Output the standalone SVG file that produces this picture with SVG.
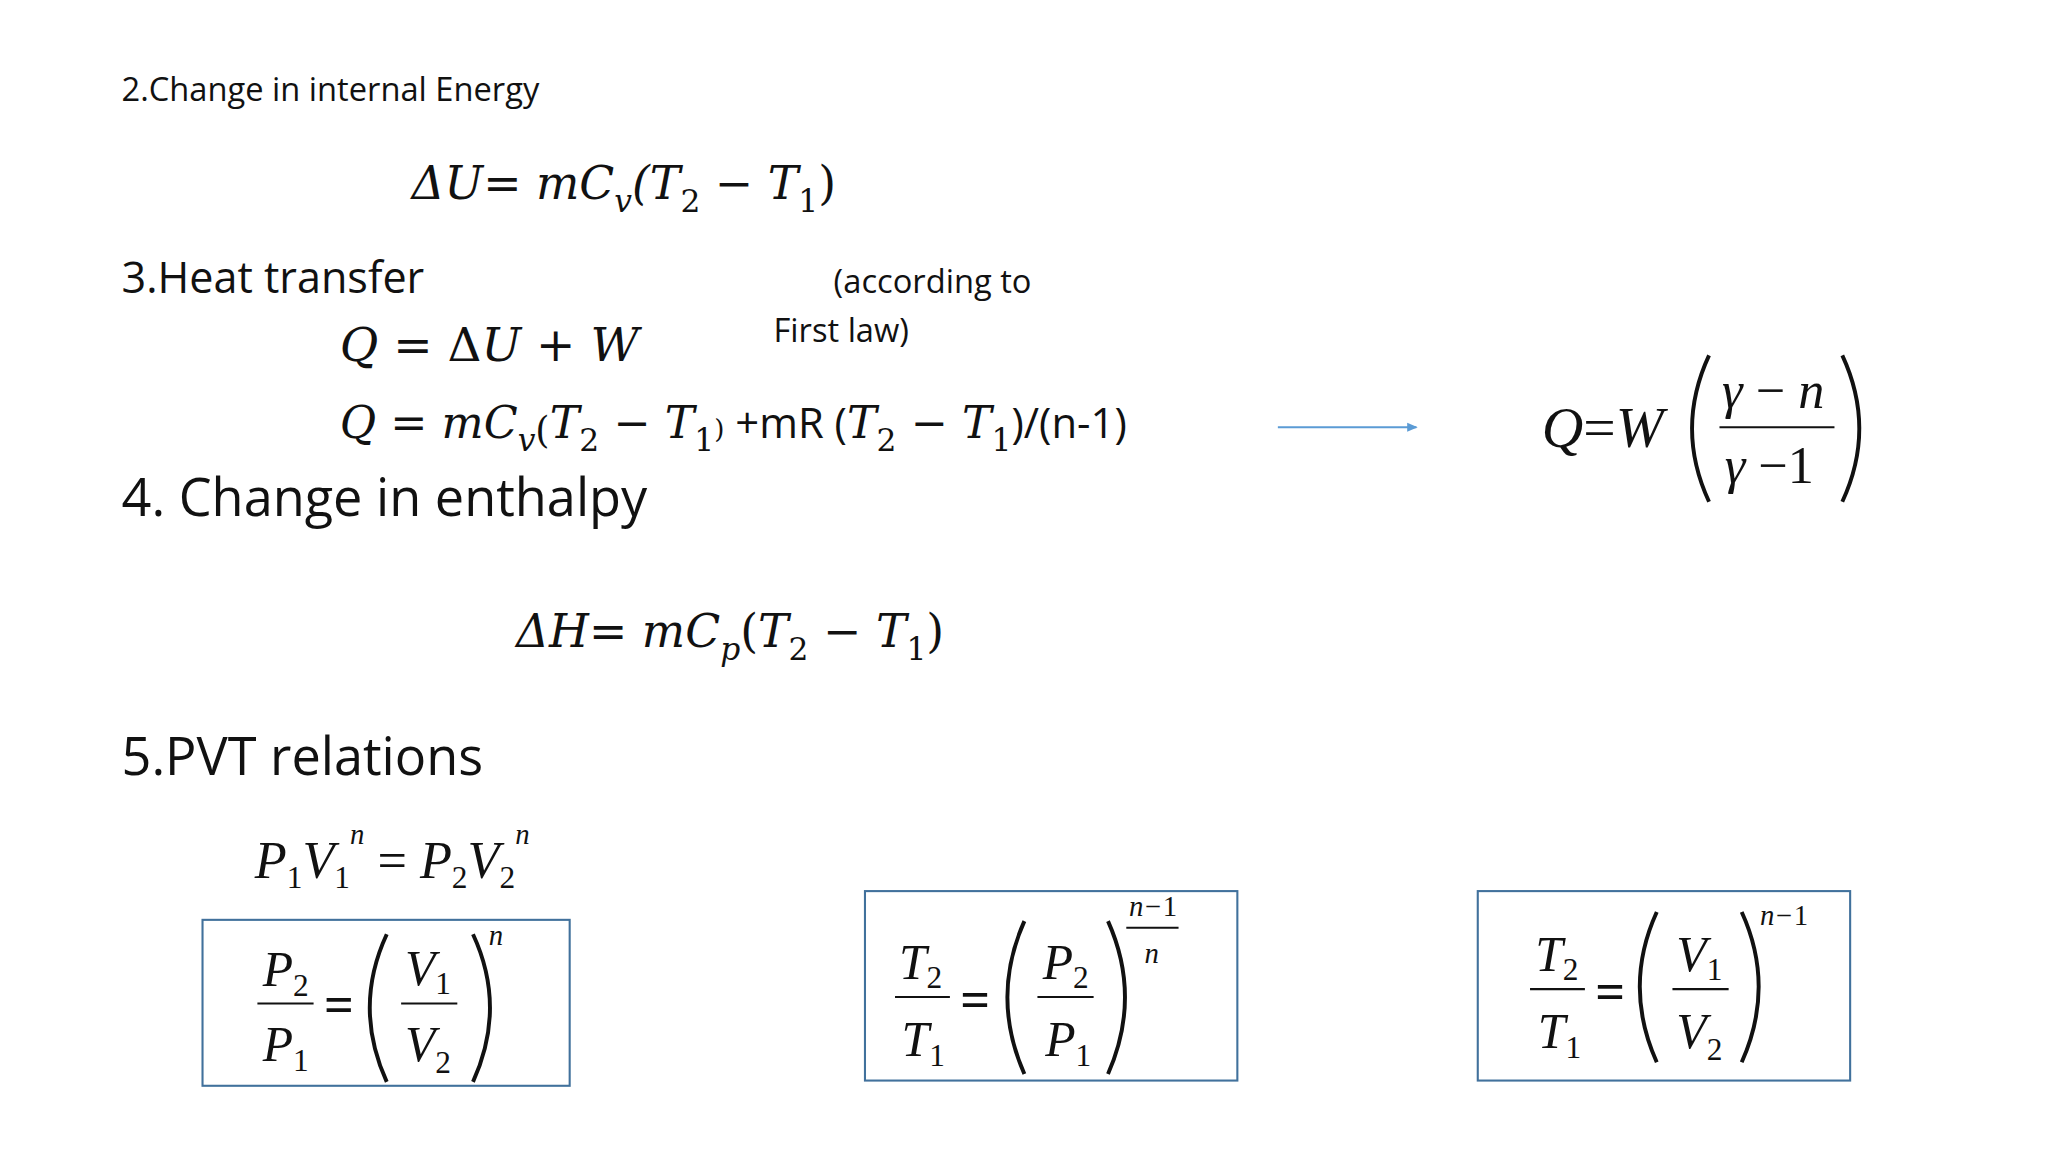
<svg xmlns="http://www.w3.org/2000/svg" width="2048" height="1152" viewBox="0 0 2048 1152">
<style>
.h{font-family:"Open Sans","Noto Sans",sans-serif;fill:#111}
.m{font-family:"DejaVu Serif","Liberation Serif",serif;font-style:italic;fill:#111}
.t{font-family:"Liberation Serif",serif;fill:#111}
.i{font-style:italic}
.box{fill:none;stroke:#41719c;stroke-width:1.6}
.par{fill:none;stroke:#111;stroke-width:3}
.bar{stroke:#111;stroke-width:1.6}
</style>
<defs><marker id="ah" markerWidth="8" markerHeight="8" refX="7" refY="4" orient="auto" markerUnits="userSpaceOnUse"><path d="M0,0.5 L8,4 L0,7.5z" fill="#5b9bd5"/></marker></defs>
<rect width="2048" height="1152" fill="#fff"/>
<g transform="scale(1.3066)">
<g id="texts">
<text class="h" x="93" y="77" font-size="25">2.Change in internal Energy</text>
<text class="m" x="315" y="152" font-size="35">ΔU= mC<tspan font-size="24" dy="10">v</tspan><tspan dy="-10">(T</tspan><tspan font-size="24" dy="10" font-style="normal">2</tspan><tspan dy="-10"> − T</tspan><tspan font-size="24" dy="10" font-style="normal">1</tspan><tspan dy="-10" font-style="normal">)</tspan></text>
<text class="h" x="93" y="224" font-size="33">3.Heat transfer</text>
<text class="h" x="638" y="224" font-size="25">(according to</text>
<text class="h" x="592" y="262" font-size="25">First law)</text>
<text class="m" x="260" y="276" font-size="36">Q = <tspan font-style="normal">Δ</tspan>U + W</text>
<text class="m" x="260" y="335" font-size="34">Q = mC<tspan font-size="24" dy="10">v</tspan><tspan dy="-6" font-size="28" font-style="normal">(</tspan><tspan dy="-4">T</tspan><tspan font-size="24" dy="10" font-style="normal">2</tspan><tspan dy="-10"> − T</tspan><tspan font-size="24" dy="10" font-style="normal">1</tspan><tspan dy="-10" font-size="20" font-style="normal">)</tspan><tspan class="h" font-style="normal" font-size="32"> +mR (</tspan><tspan>T</tspan><tspan font-size="24" dy="10" font-style="normal">2</tspan><tspan dy="-10"> − T</tspan><tspan font-size="24" dy="10" font-style="normal">1</tspan><tspan dy="-10" class="h" font-style="normal" font-size="32">)/(n-1)</tspan></text>
<text class="h" x="93" y="395" font-size="40">4. Change in enthalpy</text>
<text class="m" x="395" y="495" font-size="35">ΔH= mC<tspan font-size="24" dy="10">p</tspan><tspan dy="-10" font-style="normal">(</tspan><tspan>T</tspan><tspan font-size="24" dy="10" font-style="normal">2</tspan><tspan dy="-10"> − T</tspan><tspan font-size="24" dy="10" font-style="normal">1</tspan><tspan dy="-10" font-style="normal">)</tspan></text>
<text class="h" x="93" y="593" font-size="40">5.PVT relations</text>
<text class="t" x="195" y="672" font-size="40"><tspan class="i">P</tspan><tspan font-size="24" dy="8">1</tspan><tspan class="i" dy="-8">V</tspan><tspan font-size="24" dy="8">1</tspan><tspan class="i" font-size="22" dy="-34">n</tspan><tspan dy="26"> = </tspan><tspan class="i">P</tspan><tspan font-size="24" dy="8">2</tspan><tspan class="i" dy="-8">V</tspan><tspan font-size="24" dy="8">2</tspan><tspan class="i" font-size="22" dy="-34">n</tspan></text>
</g>
<g id="connectors"><line x1="978" y1="327" x2="1084" y2="327" stroke="#5b9bd5" stroke-width="1.6" marker-end="url(#ah)"/></g>
<g id="qw">
<text class="t" x="1180" y="342" font-size="44"><tspan class="i">Q</tspan>=<tspan class="i">W</tspan></text>
<path class="par" d="M1308,272 Q1282,328 1308,384"/>
<path class="par" d="M1410,272 Q1436,328 1410,384"/>
<line class="bar" x1="1316" y1="327" x2="1404" y2="327"/>
<text class="t" x="1318" y="312" font-size="40"><tspan class="i">γ</tspan> − <tspan class="i">n</tspan></text>
<text class="t" x="1320" y="370" font-size="40"><tspan class="i">γ</tspan> −1</text>
</g>
<g id="box1">
<rect class="box" x="155" y="704" width="281" height="127"/>
<text class="t i" x="201" y="755" font-size="38">P<tspan font-size="24" dy="7" font-style="normal">2</tspan></text>
<line class="bar" x1="197" y1="768" x2="240" y2="768"/>
<text class="t i" x="201" y="812" font-size="38">P<tspan font-size="24" dy="8" font-style="normal">1</tspan></text>
<text class="t" x="248" y="782" font-size="40" font-weight="bold">=</text>
<path class="par" d="M296,715 Q270,771 296,828"/>
<path class="par" d="M362,715 Q388,771 362,828"/>
<text class="t i" x="310" y="754" font-size="38">V<tspan font-size="24" dy="7" font-style="normal">1</tspan></text>
<line class="bar" x1="307" y1="768" x2="350" y2="768"/>
<text class="t i" x="310" y="812" font-size="38">V<tspan font-size="24" dy="9" font-style="normal">2</tspan></text>
<text class="t i" x="374" y="723" font-size="22">n</text>
</g>
<g id="box2">
<rect class="box" x="662" y="682" width="285" height="145"/>
<text class="t i" x="688" y="749" font-size="38">T<tspan font-size="24" dy="7" font-style="normal">2</tspan></text>
<line class="bar" x1="685" y1="763" x2="727" y2="763"/>
<text class="t i" x="690" y="808" font-size="38">T<tspan font-size="24" dy="8" font-style="normal">1</tspan></text>
<text class="t" x="735" y="778" font-size="40" font-weight="bold">=</text>
<path class="par" d="M784,705 Q758,763 784,822"/>
<path class="par" d="M848,705 Q874,763 848,822"/>
<text class="t i" x="798" y="749" font-size="38">P<tspan font-size="24" dy="7" font-style="normal">2</tspan></text>
<line class="bar" x1="794" y1="763" x2="837" y2="763"/>
<text class="t i" x="800" y="808" font-size="38">P<tspan font-size="24" dy="8" font-style="normal">1</tspan></text>
<text class="t i" x="864" y="701" font-size="22">n−<tspan font-style="normal">1</tspan></text>
<line class="bar" x1="862" y1="710" x2="902" y2="710" stroke-width="1"/>
<text class="t i" x="876" y="737" font-size="22">n</text>
</g>
<g id="box3">
<rect class="box" x="1131" y="682" width="285" height="145"/>
<text class="t i" x="1175" y="743" font-size="38">T<tspan font-size="24" dy="7" font-style="normal">2</tspan></text>
<line class="bar" x1="1171" y1="757" x2="1213" y2="757"/>
<text class="t i" x="1177" y="802" font-size="38">T<tspan font-size="24" dy="8" font-style="normal">1</tspan></text>
<text class="t" x="1221" y="772" font-size="40" font-weight="bold">=</text>
<path class="par" d="M1268,698 Q1242,755 1268,813"/>
<path class="par" d="M1333,698 Q1359,755 1333,813"/>
<text class="t i" x="1283" y="743" font-size="38">V<tspan font-size="24" dy="7" font-style="normal">1</tspan></text>
<line class="bar" x1="1280" y1="757" x2="1323" y2="757"/>
<text class="t i" x="1283" y="802" font-size="38">V<tspan font-size="24" dy="9" font-style="normal">2</tspan></text>
<text class="t i" x="1347" y="708" font-size="22">n−<tspan font-style="normal">1</tspan></text>
</g>
</g>
</svg>
